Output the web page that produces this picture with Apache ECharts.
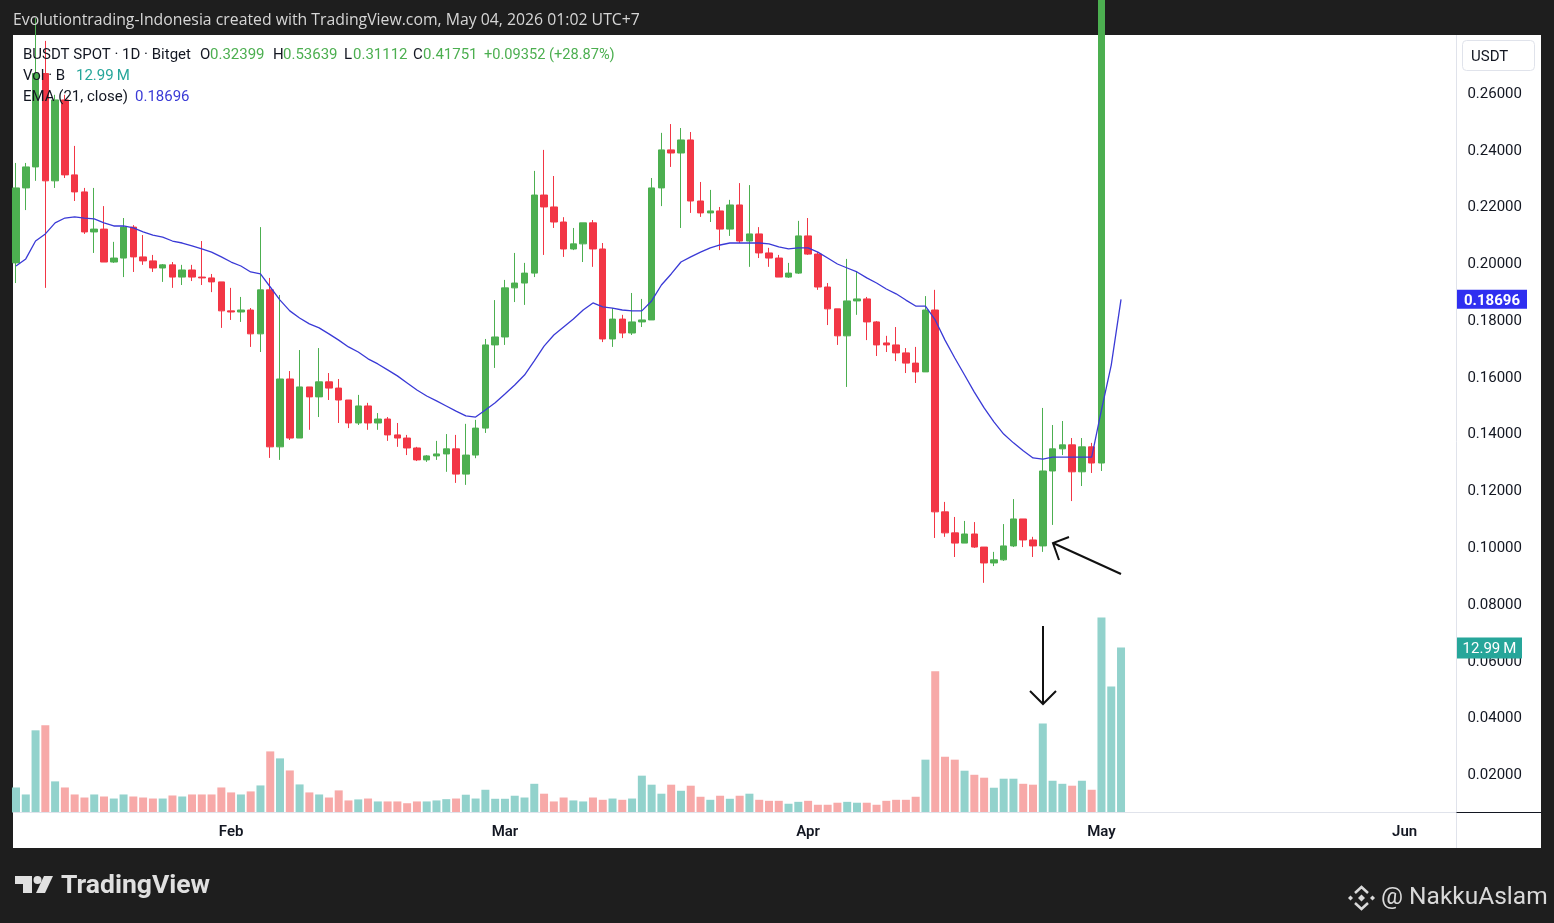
<!DOCTYPE html>
<html>
<head>
<meta charset="utf-8">
<script src="https://cdn.jsdelivr.net/npm/echarts@6.0.0/dist/echarts.min.js"></script>
<style>
html,body{margin:0;padding:0;background:#1e1e1e;}
#c{width:1554px;height:923px;}
</style>
</head>
<body>
<div id="c"></div>
<script>
// ---------- data (BUSDT spot, 1D, Bitget) ----------
const startDate = '2026-01-10';
const dayCount = 148; // visible days on the time scale (data + empty right margin)
const monthLabels = {'02':'Feb','03':'Mar','04':'Apr','05':'May','06':'Jun'};

const open = [0.1998,0.2262,0.2336,0.2665,0.2287,0.2572,0.2308,0.2248,0.2107,0.2117,
0.2001,0.2015,0.2124,0.2019,0.2005,0.1980,0.1991,0.1948,0.1973,0.1948,
0.1945,0.1931,0.1829,0.1825,0.1832,0.1748,0.1903,0.1350,0.1589,0.1381,
0.1561,0.1526,0.1579,0.1557,0.1515,0.1434,0.1494,0.1434,0.1448,0.1392,
0.1381,0.1346,0.1304,0.1318,0.1325,0.1343,0.1254,0.1321,0.1416,0.1709,
0.1737,0.1910,0.1927,0.1962,0.2237,0.2195,0.2142,0.2047,0.2065,0.2139,
0.2047,0.1730,0.1800,0.1751,0.1790,0.1797,0.2262,0.2396,0.2385,0.2431,
0.2216,0.2174,0.2181,0.2117,0.2202,0.2075,0.2100,0.2033,0.2015,0.1948,
0.1962,0.2093,0.2029,0.1913,0.1836,0.1741,0.1864,0.1871,0.1790,0.1716,
0.1709,0.1681,0.1645,0.1614,0.1832,0.1121,0.1047,0.1011,0.1043,0.0997,
0.0941,0.0952,0.1001,0.1096,0.1022,0.1001,0.1265,0.1343,0.1357,0.1262,
0.1350,0.1293,0.3130,0.32399];

const high = [0.2350,0.2350,0.2860,0.2780,0.2590,0.2590,0.2410,0.2262,0.2262,0.2198,
0.2072,0.2156,0.2131,0.2096,0.2026,0.1994,0.2001,0.1991,0.1991,0.2075,
0.1959,0.1931,0.1910,0.1878,0.1839,0.2124,0.1945,0.1885,0.1617,0.1691,
0.1561,0.1698,0.1610,0.1589,0.1515,0.1533,0.1505,0.1469,0.1455,0.1434,
0.1392,0.1350,0.1321,0.1371,0.1395,0.1392,0.1431,0.1445,0.1730,0.1867,
0.1938,0.2033,0.1998,0.2322,0.2396,0.2304,0.2159,0.2121,0.2139,0.2149,
0.2068,0.1839,0.1815,0.1892,0.1871,0.2297,0.2456,0.2487,0.2473,0.2459,
0.2283,0.2255,0.2195,0.2220,0.2279,0.2272,0.2124,0.2051,0.2026,0.1998,
0.2146,0.2156,0.2036,0.1927,0.1836,0.2012,0.1966,0.1878,0.1793,0.1741,
0.1772,0.1698,0.1702,0.1881,0.1903,0.1156,0.1103,0.1089,0.1085,0.0997,
0.0980,0.1078,0.1166,0.1096,0.1033,0.1487,0.1427,0.1441,0.1381,0.1381,
0.1364,0.3380,0.3450,0.53639];

const low = [0.1927,0.2184,0.2287,0.1910,0.2262,0.2297,0.2216,0.2100,0.2033,0.2001,
0.1998,0.1948,0.1966,0.1991,0.1966,0.1931,0.1910,0.1920,0.1934,0.1920,
0.1895,0.1769,0.1797,0.1790,0.1702,0.1684,0.1311,0.1304,0.1374,0.1381,
0.1410,0.1455,0.1515,0.1434,0.1416,0.1427,0.1410,0.1410,0.1371,0.1350,
0.1321,0.1300,0.1297,0.1304,0.1262,0.1223,0.1216,0.1310,0.1399,0.1628,
0.1709,0.1860,0.1850,0.1948,0.2026,0.2121,0.2019,0.2043,0.2001,0.1984,
0.1719,0.1702,0.1733,0.1744,0.1772,0.1797,0.2198,0.2336,0.2121,0.2174,
0.2160,0.2142,0.2043,0.2093,0.2068,0.1984,0.2015,0.1984,0.1948,0.1945,
0.1959,0.2026,0.1903,0.1779,0.1709,0.1561,0.1815,0.1726,0.1670,0.1684,
0.1652,0.1610,0.1575,0.1614,0.1029,0.1033,0.0962,0.1011,0.0994,0.0871,
0.0930,0.0948,0.0997,0.0997,0.0962,0.0980,0.1075,0.1321,0.1159,0.1212,
0.1258,0.1265,0.2960,0.31112];

const close = [0.2262,0.2336,0.2665,0.2287,0.2572,0.2308,0.2248,0.2107,0.2117,0.2001,
0.2015,0.2124,0.2019,0.2005,0.1980,0.1991,0.1948,0.1973,0.1948,0.1945,
0.1931,0.1829,0.1825,0.1832,0.1748,0.1903,0.1350,0.1589,0.1381,0.1561,
0.1526,0.1579,0.1557,0.1515,0.1434,0.1494,0.1434,0.1448,0.1392,0.1381,
0.1346,0.1304,0.1318,0.1325,0.1343,0.1254,0.1321,0.1416,0.1709,0.1737,
0.1910,0.1927,0.1962,0.2237,0.2195,0.2142,0.2047,0.2065,0.2139,0.2047,
0.1730,0.1800,0.1751,0.1790,0.1797,0.2262,0.2396,0.2385,0.2431,0.2216,
0.2174,0.2181,0.2117,0.2202,0.2075,0.2100,0.2033,0.2015,0.1948,0.1962,
0.2093,0.2029,0.1913,0.1836,0.1741,0.1864,0.1871,0.1790,0.1709,0.1709,
0.1681,0.1645,0.1614,0.1832,0.1121,0.1047,0.1011,0.1043,0.0997,0.0941,
0.0952,0.1001,0.1096,0.1022,0.1001,0.1265,0.1343,0.1357,0.1262,0.1350,
0.1293,0.3130,0.32399,0.41751];

// volume in millions
const volumeM = [1.97,1.42,6.47,6.86,2.45,1.97,1.42,1.18,1.42,1.26,
1.10,1.42,1.26,1.18,1.10,1.10,1.34,1.26,1.42,1.42,
1.42,1.97,1.58,1.42,1.66,2.13,4.81,4.26,3.31,2.21,
1.58,1.42,1.18,1.74,0.95,1.03,1.10,0.87,0.87,0.87,
0.73,0.87,0.87,0.95,1.05,1.10,1.40,1.10,1.79,1.08,
1.08,1.32,1.18,2.26,1.48,0.87,1.18,0.95,0.87,1.18,
1.00,1.10,1.00,1.10,2.90,2.19,1.48,2.19,1.71,2.11,
1.24,1.00,1.32,1.08,1.32,1.48,1.00,0.92,0.92,0.69,
0.84,0.92,0.61,0.61,0.77,0.84,0.77,0.77,0.61,0.92,
1.00,1.00,1.24,4.16,11.12,4.39,4.16,3.29,2.97,2.74,
1.95,2.66,2.66,2.26,2.19,7.00,2.50,2.26,2.11,2.50,
1.79,15.36,9.92,12.99];

// EMA(21, close) as drawn
const ema21 = [0.1987,0.2012,0.2075,0.2100,0.2139,0.2156,0.2160,0.2156,0.2153,0.2139,
0.2128,0.2128,0.2121,0.2107,0.2096,0.2089,0.2075,0.2068,0.2058,0.2047,
0.2036,0.2019,0.2001,0.1987,0.1966,0.1959,0.1913,0.1867,0.1829,0.1804,
0.1783,0.1769,0.1748,0.1726,0.1702,0.1684,0.1660,0.1642,0.1621,0.1600,
0.1575,0.1550,0.1529,0.1512,0.1494,0.1476,0.1459,0.1455,0.1480,0.1505,
0.1536,0.1568,0.1603,0.1653,0.1705,0.1744,0.1772,0.1800,0.1832,0.1857,
0.1843,0.1839,0.1832,0.1829,0.1829,0.1864,0.1920,0.1959,0.2001,0.2019,
0.2036,0.2051,0.2061,0.2068,0.2068,0.2068,0.2068,0.2065,0.2054,0.2047,
0.2051,0.2051,0.2036,0.2015,0.1994,0.1980,0.1966,0.1945,0.1927,0.1906,
0.1889,0.1867,0.1846,0.1846,0.1797,0.1726,0.1663,0.1603,0.1543,0.1487,
0.1438,0.1395,0.1364,0.1336,0.1311,0.1307,0.1314,0.1314,0.1314,0.1314,
0.1314,0.1480,0.1638,0.18696];

const priceMin = 0, priceMax = 0.28, priceStep = 0.02;

// ---------- build ----------
const FONT = "Roboto, 'Noto Sans', 'DejaVu Sans', sans-serif";
const TITLE_FONT = "'Open Sans', Roboto, sans-serif";
const GREEN = '#4caf50', RED = '#f23645', VOL_UP = '#92d2cc', VOL_DN = '#f7a9a8', EMA_C = '#3a3ad6';
const TXT = '#131722';

const dates = [];
(function(){
  const d0 = new Date(startDate + 'T00:00:00Z').getTime();
  for (let i = 0; i < dayCount; i++) dates.push(new Date(d0 + i * 86400000).toISOString().slice(0,10));
})();

const candles = open.map((o,i) => [o, close[i], low[i], high[i]]);
const volBars = volumeM.map((v,i) => ({value: v, itemStyle: {color: close[i] >= open[i] ? VOL_UP : VOL_DN}}));

const gridLeft = 11.1, gridRight = 1554 - 1458.4;

const chart = echarts.init(document.getElementById('c'));

function txt(x, y, text, fill, size, weight, align, extra, family) {
  return Object.assign({
    type: 'text', x: x, y: y + 2, z: 50,
    style: {
      text: text, fill: fill,
      font: (weight || 'normal') + ' ' + size + 'px ' + (family || FONT),
      align: align || 'left', verticalAlign: 'middle',
      textAlign: align || 'left', textVerticalAlign: 'middle'
    }
  }, extra || {});
}
function line(points, color, width, z) {
  return {type: 'polyline', z: z || 60, shape: {points: points}, style: {stroke: color, lineWidth: width, fill: null}};
}

const n = open.length - 1;
const f5 = v => v.toFixed(5);
const chg = close[n] - open[n];
const pct = chg / open[n] * 100;

function baseGraphics() {
  const g = [];
  // white chart panel
  g.push({type: 'rect', z: -100, shape: {x: 13, y: 35, width: 1528, height: 813}, style: {fill: '#ffffff'}});
  // header
  g.push(txt(13, 18, 'Evolutiontrading-Indonesia created with TradingView.com, May 04, 2026 01:02 UTC+7', '#d6d6d6', 15.8, 'normal', 'left', null, TITLE_FONT));
  // legend
  const LS = 15;
  g.push(txt(23, 53, 'BUSDT SPOT · 1D · Bitget', TXT, LS));
  g.push(txt(200, 53, 'O', TXT, LS)); g.push(txt(210, 53, f5(open[n]), GREEN, LS));
  g.push(txt(273, 53, 'H', TXT, LS)); g.push(txt(283, 53, f5(high[n]), GREEN, LS));
  g.push(txt(344, 53, 'L', TXT, LS)); g.push(txt(353, 53, f5(low[n]), GREEN, LS));
  g.push(txt(413, 53, 'C', TXT, LS)); g.push(txt(423, 53, f5(close[n]), GREEN, LS));
  g.push(txt(484, 53, '+' + f5(chg) + ' (+' + pct.toFixed(2) + '%)', GREEN, 14.6));
  g.push(txt(23, 74, 'Vol · B', TXT, LS));
  g.push(txt(76, 74, volumeM[n].toFixed(2) + '\u2009M', '#26a69a', LS));
  g.push(txt(23, 95, 'EMA (21, close)', TXT, LS));
  g.push(txt(135, 95, f5(ema21[n]), EMA_C, LS));
  // pane separators
  g.push(line([[1456.5, 35], [1456.5, 848]], '#e0e3eb', 1, 5));
  g.push(line([[13, 812.5], [1456.5, 812.5]], '#e0e3eb', 1, 5));
  g.push(line([[1456.5, 812.5], [1541, 812.5]], '#131722', 1, 5));
  // currency box
  g.push({type: 'rect', z: 40, shape: {x: 1462.5, y: 40.5, width: 72, height: 30, r: 4}, style: {fill: '#ffffff', stroke: '#e0e3eb', lineWidth: 1}});
  g.push(txt(1471, 55.5, 'USDT', TXT, LS));
  // annotation arrows
  g.push(line([[1121, 574], [1053, 543]], '#111111', 2));
  g.push(line([[1069, 537], [1053, 543], [1059, 560]], '#111111', 2));
  g.push(line([[1043, 626], [1043, 704]], '#111111', 2));
  g.push(line([[1030, 691], [1043, 704], [1056, 691]], '#111111', 2));
  // TradingView logo (bottom left)
  const LG = '#e0e0e0';
  g.push({type: 'polygon', z: 50, shape: {points: [[15,876],[32,876],[32,893],[23,893],[23,884],[15,884]]}, style: {fill: LG}});
  g.push({type: 'circle', z: 50, shape: {cx: 37.5, cy: 880, r: 4}, style: {fill: LG}});
  g.push({type: 'polygon', z: 50, shape: {points: [[44,876],[53,876],[45,893],[36,893]]}, style: {fill: LG}});
  g.push(txt(61, 884, 'TradingView', LG, 26.5, 'bold'));
  // watermark (bottom right)
  const WM = '#d9d9d9';
  g.push(line([[1355,893],[1361.5,887],[1368,893]], WM, 2.5));
  g.push(line([[1355,903],[1361.5,909],[1368,903]], WM, 2.5));
  g.push({type: 'polygon', z: 50, shape: {points: [[1361.5,894.5],[1365,898],[1361.5,901.5],[1358,898]]}, style: {fill: WM}});
  g.push({type: 'polygon', z: 50, shape: {points: [[1350.5,895.5],[1353,898],[1350.5,900.5],[1348,898]]}, style: {fill: WM}});
  g.push({type: 'polygon', z: 50, shape: {points: [[1372.5,895.5],[1375,898],[1372.5,900.5],[1370,898]]}, style: {fill: WM}});
  g.push(txt(1381, 896, '@ NakkuAslam', WM, 24.5));
  return g;
}

const option = {
  backgroundColor: '#1e1e1e',
  animation: false,
  grid: [
    {left: gridLeft, right: gridRight, top: 35.2, bottom: 923 - 830.1},
    {left: gridLeft, right: gridRight, top: 600, bottom: 923 - 812.5}
  ],
  xAxis: [
    {type: 'category', gridIndex: 0, data: dates, boundaryGap: true, show: false},
    {type: 'category', gridIndex: 1, data: dates, boundaryGap: true,
      axisLine: {show: false}, axisTick: {show: false}, splitLine: {show: false},
      axisLabel: {
        interval: (i, v) => v.slice(8) === '01',
        formatter: v => monthLabels[v.slice(5,7)] || '',
        color: TXT, fontSize: 15, fontWeight: 600, fontFamily: FONT, margin: 12
      }}
  ],
  yAxis: [
    {type: 'value', gridIndex: 0, position: 'right', min: priceMin, max: priceMax, interval: priceStep,
      axisLine: {show: false}, axisTick: {show: false}, splitLine: {show: false},
      axisLabel: {showMinLabel: false, showMaxLabel: false, formatter: v => '{p|' + v.toFixed(5) + '}',
        margin: 9,
        rich: {p: {color: TXT, fontSize: 15, fontFamily: FONT, padding: [4, 0, 0, 0]}}}},
    {type: 'value', gridIndex: 1, min: 0, max: 16.73, show: false}
  ],
  series: [
    {type: 'bar', name: 'Vol', xAxisIndex: 1, yAxisIndex: 1, data: volBars, barWidth: 8, z: 1},
    {type: 'candlestick', name: 'BUSDT', xAxisIndex: 0, yAxisIndex: 0, data: candles, barWidth: 7, clip: true, z: 3,
      itemStyle: {color: GREEN, color0: RED, borderColor: GREEN, borderColor0: RED, borderWidth: 1}},
    {type: 'line', name: 'EMA', xAxisIndex: 0, yAxisIndex: 0, data: ema21, showSymbol: false, symbol: 'none',
      lineStyle: {color: EMA_C, width: 1.3}, z: 4}
  ],
  graphic: baseGraphics()
};
chart.setOption(option);

// price-scale value tags placed at their data values
const yEma = chart.convertToPixel({yAxisIndex: 0}, ema21[n]);
const yVol = chart.convertToPixel({yAxisIndex: 1}, volumeM[n]);
const g = baseGraphics();
g.push({type: 'rect', z: 70, shape: {x: 1457, y: yVol - 10, width: 65, height: 21}, style: {fill: '#26a69a'}});
g.push(txt(1489.5, yVol, volumeM[n].toFixed(2) + '\u2009M', '#ffffff', 15, 'normal', 'center', {z: 71}));
g.push({type: 'rect', z: 70, shape: {x: 1457, y: yEma - 9.5, width: 70, height: 19}, style: {fill: '#2f2ff0'}});
g.push(txt(1492, yEma, f5(ema21[n]), '#ffffff', 15, 'bold', 'center', {z: 71}));
chart.setOption({graphic: g});
</script>
</body>
</html>
